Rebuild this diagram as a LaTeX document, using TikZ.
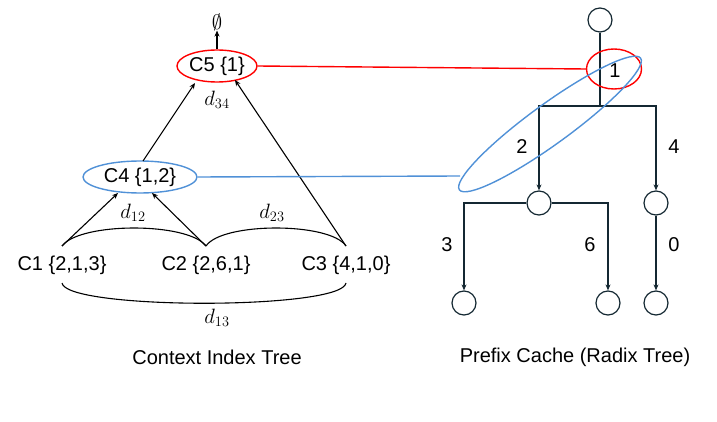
\documentclass[tikz,border=0pt]{standalone}
\usepackage{fontspec}
\setmainfont{Liberation Sans}
\usetikzlibrary{arrows.meta,shapes.geometric}
\definecolor{bl}{RGB}{80,145,215}
\definecolor{tc}{RGB}{20,40,50}
\begin{document}
\begin{tikzpicture}[x=1pt,y=-1pt,
  txt/.style={font=\fontsize{20}{24}\selectfont, inner sep=0pt},
  mth/.style={font=\fontsize{21}{24}\selectfont, inner sep=0pt},
  arr/.style={-{Stealth[length=6pt,width=5pt]}, line width=1.1pt},
  tl/.style={line width=1.2pt, draw=tc},
  rn/.style={circle, draw=tc, line width=1.2pt, minimum size=24pt, inner sep=0pt},
  redc/.style={draw=red, line width=1.4pt},
  bluec/.style={draw=bl, line width=1.4pt}]
\useasboundingbox (0,0) rectangle (717,422);
% left tree
\node[txt] (e) at (217,22) {$\emptyset$};
\node[txt, ellipse, redc, minimum width=80pt, minimum height=32pt] (c5) at (217,66) {C5 \{1\}};
\node[txt, ellipse, bluec, minimum width=114pt, minimum height=32pt] (c4) at (140,177) {C4 \{1,2\}};
\node[txt] (c1) at (62,265) {C1 \{2,1,3\}};
\node[txt] (c2) at (206,265) {C2 \{2,6,1\}};
\node[txt] (c3) at (346,265) {C3 \{4,1,0\}};
\coordinate (c1t) at (62,246); \coordinate (c2t) at (206,246); \coordinate (c3t) at (346,246);
\coordinate (c1b) at (62,283); \coordinate (c3b) at (346,283);
\draw[arr] (c5.north) -- (e.south);
\draw[arr] (c1t) -- (118,193);
\draw[arr] (c2t) -- (152,193);
\draw[arr] (143,161) -- (195,83);
\draw[arr] (c3t) -- (235,80);
\draw[line width=1.1pt] (c1t) .. controls (80,222) and (188,222) .. (c2t);
\draw[line width=1.1pt] (c2t) .. controls (222,222) and (330,222) .. (c3t);
\draw[line width=1.1pt] (c1b) .. controls (66,310) and (342,310) .. (c3b);
\node[mth] (d12) at (133,213) {$d_{12}$};
\node[mth] (d23) at (272,213) {$d_{23}$};
\node[mth] (d34) at (217,100) {$d_{34}$};
\node[mth] (d13) at (217,318) {$d_{13}$};
\node[txt] (cap1) at (217,357) {Context Index Tree};
\node[txt] (cap2) at (575,357) {Prefix Cache (Radix Tree)};
% right tree
\node[rn] (r) at (600,20) {};
\node[rn] (a) at (539,203) {};
\node[rn] (b) at (656,203) {};
\node[rn] (l1) at (464,303) {};
\node[rn] (l2) at (608,303) {};
\node[rn] (l3) at (656,303) {};
\draw[tl] (r.south) -- (600,106);
\draw[tl,arr] (600,106) -| (a.north);
\draw[tl,arr] (600,106) -| (b.north);
\draw[tl,arr] (a.west) -| (l1.north);
\draw[tl,arr] (a.east) -| (l2.north);
\draw[tl,arr] (b.south) -- (l3.north);
\node[txt] (n1) at (615,71) {1};
\node[txt] (n2) at (522,147) {2};
\node[txt] (n4) at (674,147) {4};
\node[txt] (n3) at (447,245) {3};
\node[txt] (n6) at (590,245) {6};
\node[txt] (n0) at (674,245) {0};
\node[ellipse, redc, minimum width=55pt, minimum height=40pt] (red) at (614,69) {};
\node[ellipse, bluec, rotate=36, minimum width=224pt, minimum height=40pt] (blue) at (550,124) {};
\draw[redc] (c5.east) -- (red.west);
\draw[bluec] (c4.east) -- (460,176);
\end{tikzpicture}
\end{document}
